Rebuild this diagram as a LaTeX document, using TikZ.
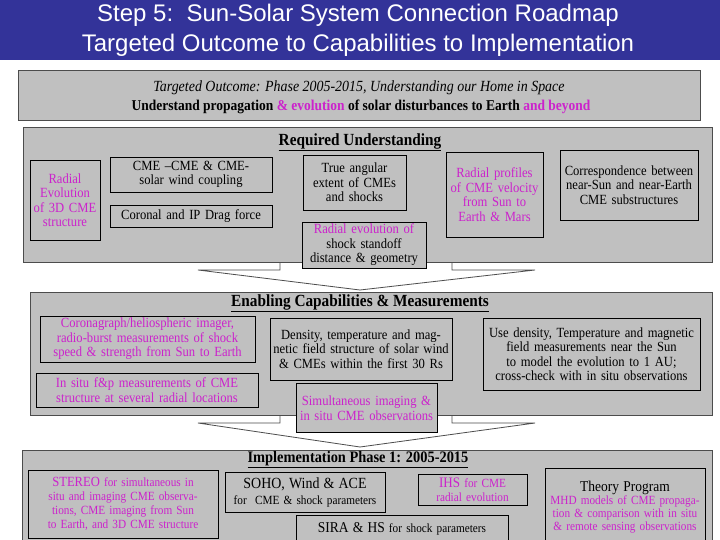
\documentclass[tikz,border=0pt]{standalone}
\usepackage{fontspec}
\setmainfont{Liberation Serif}[FakeStretch=0.9]
\newfontfamily\titlefont{Liberation Sans}
\definecolor{mag}{HTML}{CC22CC}
\definecolor{panelgray}{HTML}{C0C0C0}
\definecolor{bar}{HTML}{333399}
\begin{document}
\begin{tikzpicture}[x=1pt,y=-1pt,
  box/.style={draw=black,fill=panelgray,inner sep=1pt,align=center,font=\fontsize{14}{14.5}\selectfont},
  panel/.style={draw=black!70,fill=panelgray,line width=0.8pt},
  hdr/.style={font=\fontsize{17}{18}\selectfont\bfseries},
  arr/.style={draw=black!70,line width=0.8pt}]
\useasboundingbox (0,0) rectangle (720,540);
\fill[white] (0,0) rectangle (720,540);
\fill[bar] (0,0) rectangle (720,60);
\node[text=white,font=\titlefont\fontsize{24}{26}\selectfont] (t1) at (358,15) {Step 5:\ \ Sun-Solar System Connection Roadmap};
\node[text=white,font=\titlefont\fontsize{24}{26}\selectfont] (t2) at (358,45) {Targeted Outcome to Capabilities to Implementation};
% top box
\draw[panel] (18,70) rectangle (700,120);
\node[font=\fontsize{15.5}{16}\selectfont\itshape] (o1) at (359,88) {Targeted Outcome: Phase 2005-2015, Understanding our Home in Space};
\node[font=\fontsize{15}{16}\selectfont\bfseries] (o2) at (361,107) {Understand propagation \textcolor{mag}{\& evolution} of solar disturbances to Earth \textcolor{mag}{and beyond}};
% panel 1
\draw[panel] (23,127) rectangle (712,262);
\draw[arr] (280,262) -- (280,270) -- (198,270) -- (360,290) -- (535,270) -- (452,270) -- (452,262);
\node[hdr] (h1) at (360,142) {\underline{Required Understanding}};
\node[box,minimum width=70,minimum height=80,text width=68,text=mag] (a1) at (65,200) {Radial Evolution of 3D CME structure};
\node[box,minimum width=162,minimum height=35,text width=160] (a2) at (191,174.5) {CME --CME \& CME-\\solar wind coupling};
\node[box,minimum width=162,minimum height=22,text width=160] (a3) at (191,216) {Coronal and IP Drag force};
\node[box,minimum width=103,minimum height=55,text width=101] (a4) at (354.5,182.5) {True angular\\extent of CMEs and shocks};
\node[box,minimum width=124,minimum height=46,text width=122] (a5) at (364,245) {\textcolor{mag}{Radial evolution of}\\shock standoff\\distance \& geometry};
\node[box,minimum width=97,minimum height=85,text width=95,text=mag] (a6) at (494.5,194.5) {Radial profiles of CME velocity from Sun to Earth \& Mars};
\node[box,minimum width=138,minimum height=70,text width=136] (a7) at (629,185) {Correspondence between near-Sun and near-Earth CME substructures};
% panel 2
\draw[panel] (30,292) rectangle (712,415);
\draw[arr] (280,415) -- (280,423) -- (198,423) -- (360,447) -- (535,423) -- (452,423) -- (452,415);
\node[hdr] (h2) at (360,303) {\underline{Enabling Capabilities \& Measurements}};
\node[box,minimum width=215,minimum height=46,text width=213,text=mag] (b1) at (147.5,339) {Coronagraph/heliospheric imager, radio-burst measurements of shock speed \& strength from Sun to Earth};
\node[box,minimum width=222,minimum height=34,text width=220,text=mag] (b2) at (147,390) {In situ f\&p measurements of CME structure at several radial locations};
\node[box,minimum width=182,minimum height=62,text width=180] (b3) at (361,349) {Density, temperature and magnetic field structure of solar wind \& CMEs within the first 30 Rs};
\node[box,minimum width=141,minimum height=49,text width=139,text=mag] (b4) at (366.5,408) {Simultaneous imaging \& in situ CME observations};
\node[box,minimum width=217,minimum height=72,text width=215] (b5) at (591.5,354) {Use density, Temperature and magnetic field measurements near the Sun to model the evolution to 1 AU; cross-check with in situ observations};
% panel 3
\draw[panel] (22,450) rectangle (712,545);
\node[font=\fontsize{16}{18}\selectfont\bfseries] (h3) at (358,460) {\underline{Implementation Phase 1: 2005-2015}};
\node[box,minimum width=190,minimum height=68,text width=188,text=mag,font=\fontsize{12.5}{14}\selectfont] (c1) at (123,504) {{\fontsize{14}{14}\selectfont STEREO} for simultaneous in situ and imaging CME observations, CME imaging from Sun to Earth, and 3D CME structure};
\node[box,minimum width=160,minimum height=40,text width=158,font=\fontsize{12.5}{16}\selectfont] (c2) at (305,492) {{\fontsize{15.5}{16}\selectfont SOHO, Wind \& ACE}\\for\ \ CME \& shock parameters};
\node[box,minimum width=109,minimum height=31,text width=107,text=mag,font=\fontsize{12.5}{14}\selectfont] (c3) at (472.5,489.5) {{\fontsize{14.5}{14}\selectfont IHS} for CME radial evolution};
\node[box,minimum width=212,minimum height=28,text width=210,font=\fontsize{12.5}{14}\selectfont] (c4) at (402,529) {{\fontsize{15}{14}\selectfont SIRA \& HS} for shock parameters};
\node[box,minimum width=160,minimum height=78,text width=158,font=\fontsize{12.5}{13}\selectfont] (c5) at (625,507) {{\fontsize{15}{16}\selectfont Theory Program}\\\textcolor{mag}{MHD models of CME propagation \& comparison with in situ \& remote sensing observations}};
\end{tikzpicture}
\end{document}
